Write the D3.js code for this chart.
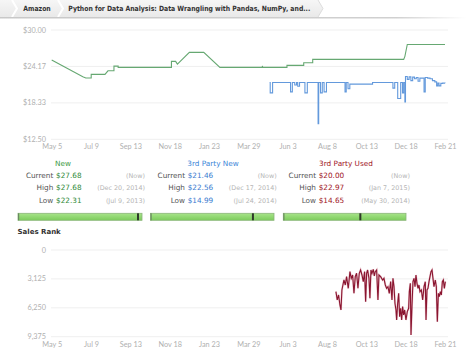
<!DOCTYPE html>
<html><head><meta charset="utf-8">
<script src="https://cdn.jsdelivr.net/npm/d3@7"></script>
<style>
html,body{margin:0;padding:0;background:#fff;}
svg{display:block;}
</style></head>
<body>
<svg id="c" width="474" height="364"></svg>
<script>
// ---------- data ----------
const startDate = "2013-05-05", endDate = "2015-02-21";
const dateTickLabels = ["May 5","Jul 9","Sep 13","Nov 18","Jan 23","Mar 29","Jun 3","Aug 8","Oct 13","Dec 18","Feb 21"];
const priceTicks = [12.50, 18.33, 24.17, 30.00];
const rankTicks = [0, 3125, 6250, 9375];

// "New" (Amazon) price: days since 2013-05-05, price
const newDays   = [0, 52, 57, 66, 66, 89, 94, 104, 104, 111, 111, 200, 200, 207, 210, 230, 254, 281, 351, 352, 353, 393, 393, 421, 421, 436, 436, 588, 590, 594, 657];
const newPrices = [25.18, 22.50, 22.31, 22.31, 22.89, 22.89, 23.47, 23.47, 24.22, 24.22, 24.01, 24.01, 24.98, 24.98, 24.54, 26.42, 26.42, 24.01, 24.01, 24.15, 24.01, 24.01, 24.33, 24.33, 24.75, 24.75, 25.30, 25.30, 25.78, 27.68, 27.68];

// 3rd party new price
const tpNewDays   = [364, 365, 369, 399, 402, 406, 409, 411, 414, 423, 427, 445, 446, 449, 452, 455, 459, 490, 492, 495, 498, 536, 570, 573, 578, 583, 586, 588, 590, 591, 594, 597, 600, 603, 606, 609, 612, 615, 622, 624, 628, 632, 636, 640, 643, 645, 647, 650, 653, 657];
const tpNewPrices = [21.60, 19.94, 21.60, 20.10, 21.60, 21.20, 21.60, 21.00, 21.60, 19.94, 21.60, 14.99, 21.60, 19.94, 21.60, 20.10, 21.60, 20.10, 21.60, 20.60, 21.33, 21.60, 20.70, 21.60, 19.03, 21.60, 19.94, 21.60, 18.49, 22.56, 22.10, 22.50, 21.90, 22.45, 22.20, 22.40, 21.80, 22.30, 20.10, 22.40, 22.30, 22.20, 21.90, 21.70, 21.06, 21.50, 21.06, 21.45, 21.50, 21.46];

// sales rank
const rankDays = [474.8, 477.0, 479.2, 481.5, 483.2, 484.8, 488.2, 490.4, 492.6, 495.4, 498.2, 500.4, 502.7, 504.9, 507.1, 509.3, 511.6, 513.8, 516.0, 518.3, 520.5, 522.7, 524.4, 526.1, 527.7, 530.0, 531.6, 533.3, 535.0, 537.2, 538.9, 540.5, 542.8, 545.0, 546.7, 549.5, 552.8, 555.0, 557.3, 559.5, 561.7, 563.9, 566.2, 568.4, 570.1, 571.8, 573.4, 575.1, 576.2, 577.9, 579.6, 581.2, 582.9, 584.6, 586.2, 587.9, 589.6, 591.8, 594.0, 596.3, 597.4, 599.1, 600.2, 601.8, 603.5, 605.2, 606.9, 608.5, 610.2, 611.9, 613.5, 615.2, 617.5, 619.7, 621.9, 624.1, 625.3, 626.9, 628.6, 630.3, 631.9, 633.6, 635.3, 636.9, 638.6, 640.8, 642.5, 644.2, 645.9, 647.5, 649.2, 650.9, 652.6, 654.2, 655.9, 657.6];
const rankValues = [4503, 5404, 4864, 5945, 6485, 4323, 3242, 3783, 2882, 4143, 2342, 3062, 2702, 4684, 2882, 2522, 4143, 2522, 2162, 2702, 3423, 2342, 5584, 2522, 2162, 3062, 5224, 2162, 2522, 2089, 2810, 2342, 2162, 5404, 2702, 2882, 3242, 3062, 3783, 4143, 3963, 4684, 3423, 5404, 3062, 3963, 5765, 6485, 7566, 5765, 4684, 7206, 6305, 7566, 6125, 7026, 6485, 7566, 6665, 6305, 4503, 3603, 9187, 6125, 3423, 3062, 3963, 2702, 3603, 4143, 3783, 4503, 4323, 5404, 3963, 3423, 7566, 4323, 4143, 3423, 2882, 2342, 2162, 3062, 3963, 3242, 3963, 7746, 4684, 5044, 4503, 4864, 3423, 3242, 4143, 3423];

// stats panels
const statTitles  = ["New", "3rd Party New", "3rd Party Used"];
const statCurrent = ["$27.68", "$21.46", "$20.00"];
const statHigh    = ["$27.68", "$22.56", "$22.97"];
const statLow     = ["$22.31", "$14.99", "$14.65"];
const statHighDates = ["(Dec 20, 2014)", "(Dec 17, 2014)", "(Jan 7, 2015)"];
const statLowDates  = ["(Jul 9, 2013)", "(Jul 24, 2014)", "(May 30, 2014)"];
const barLow  = [22.31, 14.99, 14.65];
const barHigh = [27.68, 22.56, 22.97];
const barCur  = [27.68, 21.46, 20.00];

const crumbs = ["Amazon", "Python for Data Analysis: Data Wrangling with Pandas, NumPy, and..."];

// ---------- drawing ----------
const svg = d3.select("#c");
const parse = d3.timeParse("%Y-%m-%d");
const t0 = parse(startDate), t1 = parse(endDate);
const toDate = d => d3.timeDay.offset(t0, Math.floor(d));

const x = d3.scaleTime().domain([t0, t1]).range([51.7, 445]);
const tickDates = d3.range(dateTickLabels.length).map(i => new Date(+t0 + i * (t1 - t0) / (dateTickLabels.length - 1)));

// header
const defs = svg.append("defs");
const hg = defs.append("linearGradient").attr("id","hg").attr("x1",0).attr("x2",0).attr("y1",0).attr("y2",1);
hg.append("stop").attr("offset","0").attr("stop-color","#f6f6f6");
hg.append("stop").attr("offset","1").attr("stop-color","#e9e9e9");
const lg = defs.append("linearGradient").attr("id","lg").attr("x1",0).attr("x2",1);
lg.append("stop").attr("offset","0").attr("stop-color","#c8c8c8");
lg.append("stop").attr("offset","0.85").attr("stop-color","#d0d0d0");
lg.append("stop").attr("offset","1").attr("stop-color","#ffffff");

svg.append("path").attr("d","M0,0 L318,0 L323,8.5 L318,17 L0,17 Z").attr("fill","url(#hg)");
svg.append("path").attr("d","M12,0 L17,8.5 L12,17").attr("fill","none").attr("stroke","#fff").attr("stroke-width",2);
svg.append("path").attr("d","M58,0 L63,8.5 L58,17").attr("fill","none").attr("stroke","#fff").attr("stroke-width",2);
svg.append("path").attr("d","M318,0 L323,8.5 L318,17").attr("fill","none").attr("stroke","#dcdcdc").attr("stroke-width",1);
svg.append("rect").attr("x",0).attr("y",17).attr("width",466).attr("height",1.5).attr("fill","url(#lg)");
const crumbX = [23.3, 68.3], crumbW = [27.4, 242];
svg.selectAll("text.crumb").data(crumbs).join("text").attr("class","crumb")
  .attr("x",(d,i)=>crumbX[i]).attr("y",11)
  .attr("font-family","DejaVu Sans").attr("font-weight","bold").attr("font-size",7.2)
  .attr("fill","#333").attr("textLength",(d,i)=>crumbW[i]).attr("lengthAdjust","spacingAndGlyphs")
  .text(d=>d);

// price chart
const yP = d3.scaleLinear().domain([12.5, 30]).range([139.3, 30]);
const gridX0 = 51, gridX1 = 448;
svg.append("g").selectAll("line").data(priceTicks).join("line")
  .attr("x1",gridX0).attr("x2",gridX1).attr("y1",d=>yP(d)).attr("y2",d=>yP(d))
  .attr("stroke","#efefef").attr("stroke-width",1);
svg.append("g").selectAll("text").data(priceTicks).join("text")
  .attr("x",46).attr("y",d=>yP(d)+2.5).attr("text-anchor","end")
  .attr("font-family","Lato").attr("font-size",7.3).attr("fill","#b0b0b0")
  .text(d=>"$"+d.toFixed(2));

const axisP = svg.append("g").attr("transform","translate(0,144)")
  .call(d3.axisBottom(x).tickValues(tickDates).tickFormat((d,i)=>dateTickLabels[i]).tickSize(0).tickPadding(0));
axisP.select(".domain").remove();
axisP.selectAll("text").attr("font-family","Lato").attr("font-size",7.3).attr("fill","#b0b0b0").attr("dy","0.71em");

const lineP = d3.line().x(d=>x(toDate(d[0]))).y(d=>yP(d[1]));
svg.append("path").datum(newDays.map((d,i)=>[d,newPrices[i]]))
  .attr("d",lineP).attr("fill","none").attr("stroke","#66a872").attr("stroke-width",1.1);
svg.append("path").datum(tpNewDays.map((d,i)=>[d,tpNewPrices[i]]))
  .attr("d",lineP.curve(d3.curveStepAfter)).attr("fill","none").attr("stroke","#6399dc").attr("stroke-width",1.1);

// stats
const titleColors = ["#3d9a44","#3d86d8","#a0141e"];
const valColors = ["#2f8a36","#3a7bd0","#a0141e"];
const colTitleX = [63, 213, 346];
const colLabelR = [53.3, 185, 316];
const colDateR = [145, 276.7, 410];
statTitles.forEach((t,i)=>{
  const g = svg.append("g");
  g.append("text").attr("x",colTitleX[i]).attr("y",166).attr("text-anchor","middle")
    .attr("font-family","DejaVu Sans").attr("font-size",7.3).attr("fill",titleColors[i]).text(t);
  const rows = [["Current",statCurrent[i],"(Now)"],["High",statHigh[i],statHighDates[i]],["Low",statLow[i],statLowDates[i]]];
  rows.forEach((r,j)=>{
    const yy = 178 + j*12.4;
    g.append("text").attr("x",colLabelR[i]).attr("y",yy).attr("text-anchor","end")
      .attr("font-family","DejaVu Sans").attr("font-size",7.3).attr("fill","#555").text(r[0]);
    g.append("text").attr("x",colLabelR[i]+2.7).attr("y",yy)
      .attr("font-family","DejaVu Sans").attr("font-size",7.3).attr("fill",valColors[i]).text(r[1]);
    g.append("text").attr("x",colDateR[i]).attr("y",yy-0.3).attr("text-anchor","end")
      .attr("font-family","DejaVu Sans").attr("font-size",6.4).attr("fill","#b5b5b5").text(r[2]);
  });
});

// range bars
const bg = defs.append("linearGradient").attr("id","bg").attr("x1",0).attr("x2",0).attr("y1",0).attr("y2",1);
bg.append("stop").attr("offset","0").attr("stop-color","#a8e48a");
bg.append("stop").attr("offset","1").attr("stop-color","#7ccc5c");
const barX0 = [18, 150.5, 283.3], barX1 = [142, 274, 406];
barLow.forEach((lo,i)=>{
  const s = d3.scaleLinear().domain([lo, barHigh[i]]).range([barX0[i]+2, barX1[i]-4]);
  svg.append("rect").attr("x",barX0[i]).attr("y",213.3).attr("width",barX1[i]-barX0[i]).attr("height",7)
    .attr("fill","url(#bg)").attr("stroke","#8bb57a").attr("stroke-width",0.8);
  svg.append("rect").attr("x",barX0[i]).attr("y",213.3).attr("width",1.2).attr("height",7).attr("fill","#6a8a60");
  svg.append("rect").attr("x",s(barCur[i])-1).attr("y",213.3).attr("width",2).attr("height",7).attr("fill","#2f3a2a");
});

svg.append("text").attr("x",17.5).attr("y",233.5)
  .attr("font-family","DejaVu Sans").attr("font-weight","bold").attr("font-size",7)
  .attr("fill","#333").text("Sales Rank");

// sales rank chart
const yR = d3.scaleLinear().domain([0, 9375]).range([250, 336.7]);
svg.append("g").selectAll("line").data(rankTicks).join("line")
  .attr("x1",gridX0).attr("x2",gridX1).attr("y1",d=>yR(d)).attr("y2",d=>yR(d))
  .attr("stroke","#efefef").attr("stroke-width",1);
svg.append("g").selectAll("text").data(rankTicks).join("text")
  .attr("x",46).attr("y",d=>yR(d)+2.5).attr("text-anchor","end")
  .attr("font-family","Lato").attr("font-size",7.3).attr("fill","#b0b0b0")
  .text(d=>d3.format(",")(d));
const axisR = svg.append("g").attr("transform","translate(0,342)")
  .call(d3.axisBottom(x).tickValues(tickDates).tickFormat((d,i)=>dateTickLabels[i]).tickSize(0).tickPadding(0));
axisR.select(".domain").remove();
axisR.selectAll("text").attr("font-family","Lato").attr("font-size",7.3).attr("fill","#b0b0b0").attr("dy","0.71em");

const lineR = d3.line().x((d)=>x(d3.timeHour.offset(t0, Math.round(d[0]*24)))).y(d=>yR(d[1]));
const rankData = rankDays.map((d,i)=>[d,rankValues[i]]);
svg.append("path").datum(rankData).attr("d",lineR).attr("fill","none")
  .attr("stroke","#d88a9a").attr("stroke-width",2).attr("stroke-opacity",0.45);
svg.append("path").datum(rankData).attr("d",lineR).attr("fill","none")
  .attr("stroke","#8a1530").attr("stroke-width",1.1);
</script>
</body></html>
